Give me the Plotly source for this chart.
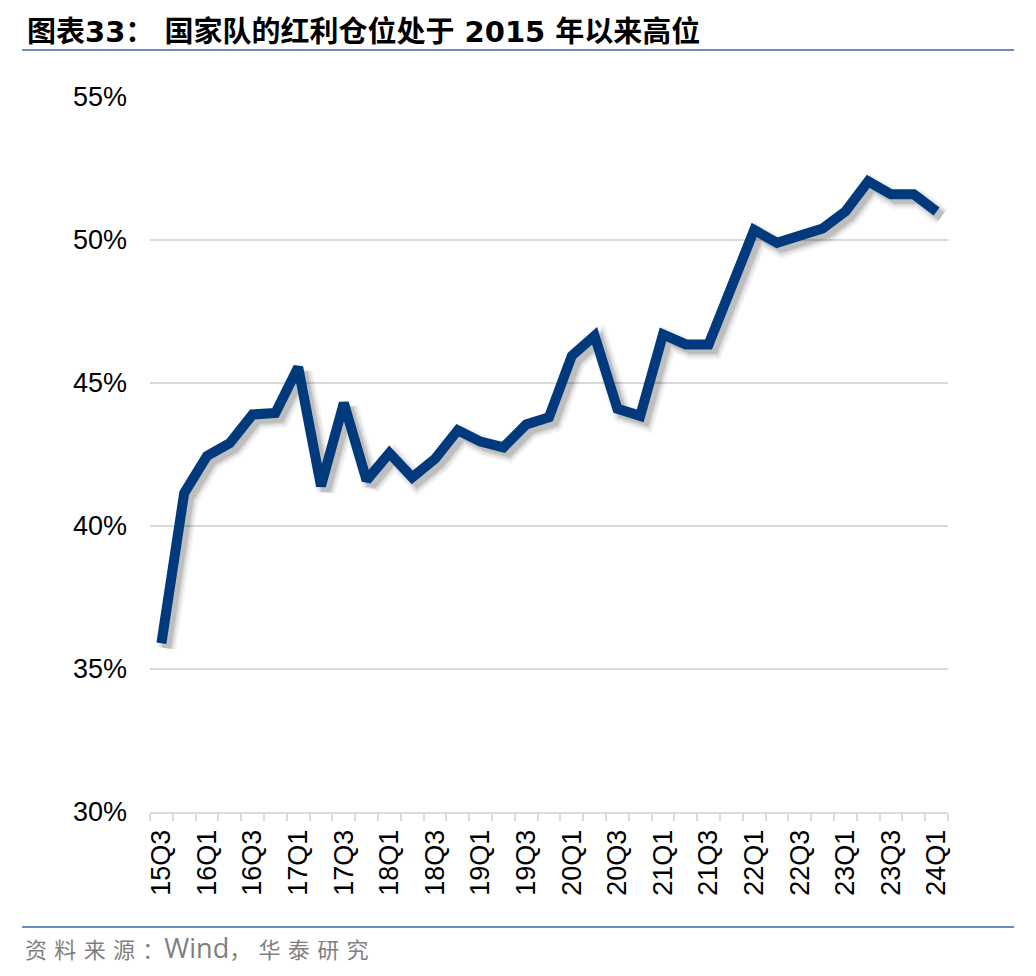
import plotly.graph_objects as go

quarters = ["15Q3","15Q4","16Q1","16Q2","16Q3","16Q4","17Q1","17Q2","17Q3","17Q4",
            "18Q1","18Q2","18Q3","18Q4","19Q1","19Q2","19Q3","19Q4","20Q1","20Q2",
            "20Q3","20Q4","21Q1","21Q2","21Q3","21Q4","22Q1","22Q2","22Q3","22Q4",
            "23Q1","23Q2","23Q3","23Q4","24Q1"]
values = [35.9, 41.15, 42.45, 42.9, 43.9, 43.95, 45.55, 41.4, 44.3, 41.6,
          42.55, 41.7, 42.35, 43.35, 42.95, 42.75, 43.55, 43.8, 45.95, 46.65,
          44.1, 43.85, 46.7, 46.35, 46.35, 48.4, 50.35, 49.9, 50.15, 50.4,
          51.0, 52.05, 51.6, 51.6, 51.0]
tick_labels = quarters[::2]
y_ticks = [30, 35, 40, 45, 50, 55]

xs = list(range(len(quarters)))
tickpos = xs[::2]
x_range = [-0.5, len(quarters) - 0.5]
y_range = [30, 55]

# figure geometry (page offset of 8px from body margin is compensated)
W, H = 1020, 960
L, T, R, B = 142, 89, 80, 156
PW, PH = W - L - R, H - T - B   # 798 x 715

def xp(fx):  # figure px -> paper x
    return (fx - L) / PW

def yp(fy):  # figure px -> paper y
    return (H - B - fy) / PH

# shadow offset (~5px right, ~5px down) in axis units
dx = 5 * (x_range[1] - x_range[0]) / PW
dy = 5 * (y_range[1] - y_range[0]) / PH

LINE = "#003a7d"
GRID = "#d9d9d9"

fig = go.Figure()
for w, a in [(20, 0.04), (16, 0.06), (12, 0.08), (9, 0.10)]:
    fig.add_trace(go.Scatter(x=xs, y=values, mode="lines",
                             line=dict(color=f"rgba(0,0,0,{a})", width=w),
                             hoverinfo="skip", showlegend=False, xaxis="x", yaxis="y"))
fig.add_trace(go.Scatter(x=xs, y=values, mode="lines",
                         line=dict(color=LINE, width=10),
                         showlegend=False, xaxis="x2", yaxis="y2"))

fig.update_layout(
    width=W, height=H,
    paper_bgcolor="white", plot_bgcolor="white",
    margin=dict(l=L, r=R, t=T, b=B),
    font=dict(family="Liberation Sans, Arial, sans-serif", color="black"),
    xaxis=dict(range=[x_range[0] - dx, x_range[1] - dx], visible=False, fixedrange=True),
    yaxis=dict(range=[y_range[0] + dy, y_range[1] + dy], visible=False, fixedrange=True),
    xaxis2=dict(overlaying="x", anchor="y2", range=x_range,
                tickvals=tickpos, ticktext=tick_labels, tickangle=-90,
                ticks="", tickfont=dict(size=27, color="black"), ticklabelstandoff=5,
                showline=True, linecolor=GRID, linewidth=2, showgrid=False, zeroline=False,
                minor=dict(tick0=-0.5, dtick=1, ticks="outside", ticklen=7,
                           tickcolor=GRID, tickwidth=2, showgrid=False)),
    yaxis2=dict(overlaying="y", anchor="x2", side="left", range=y_range,
                tickvals=y_ticks, ticktext=[f"{v}%" for v in y_ticks],
                tickfont=dict(size=27, color="black"), ticks="", ticklabelstandoff=22,
                showgrid=True, gridcolor=GRID, gridwidth=2, showline=False, zeroline=False),
)

title = "<b>图表33： 国家队的红利仓位处于 2015 年以来高位</b>"
fig.add_annotation(text=title, xref="paper", yref="paper",
                   x=xp(17), y=yp(24), showarrow=False,
                   xanchor="left", yanchor="middle",
                   font=dict(family="DejaVu Sans, Noto Sans CJK SC", size=29, color="black"))

sp = "\u2004"
src = (sp.join("资料来源：")
       + "<span style='font-family:Open Sans;font-size:27px'>Wind</span>"
       + sp.join("，华泰研究"))
fig.add_annotation(text=src, xref="paper", yref="paper",
                   x=xp(15), y=yp(940), showarrow=False,
                   xanchor="left", yanchor="middle",
                   font=dict(family="Noto Sans CJK SC", size=22, color="#7f7f7f"))

for fy in [42, 919]:
    fig.add_shape(type="line", xref="paper", yref="paper",
                  x0=xp(14), x1=xp(1006), y0=yp(fy), y1=yp(fy),
                  line=dict(color="#6a8cc0", width=2))

fig.write_html("out.html")
